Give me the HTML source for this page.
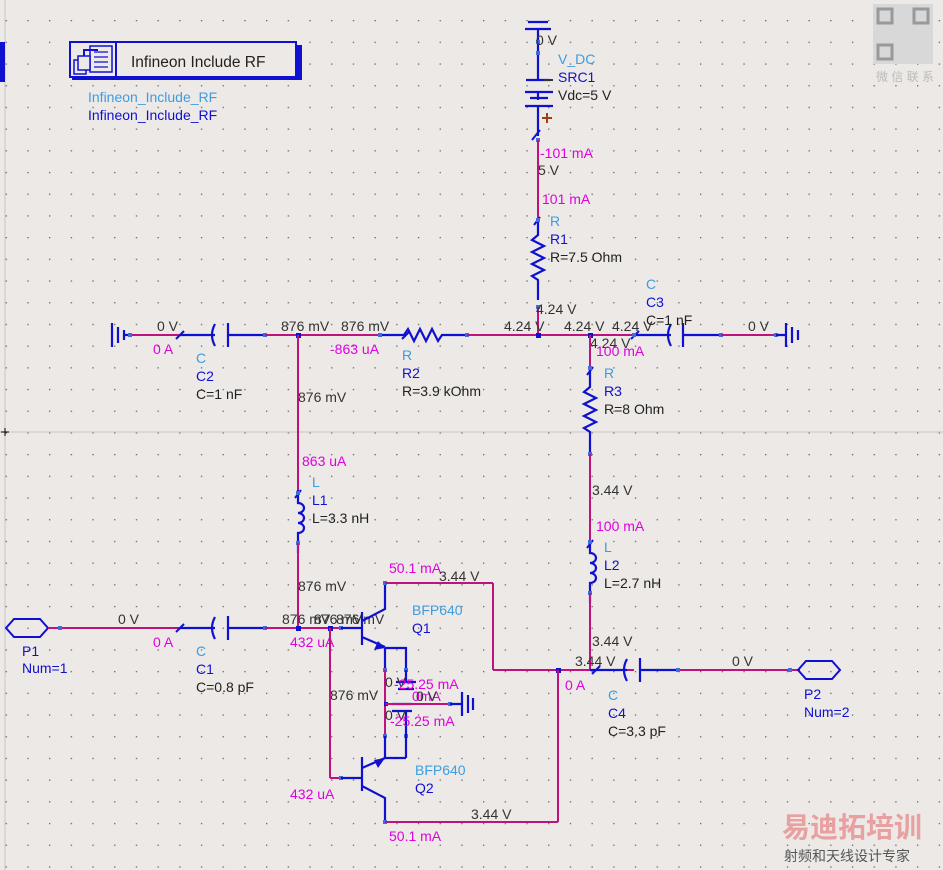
<!DOCTYPE html>
<html><head><meta charset="utf-8"><style>
html,body{margin:0;padding:0;background:#ece9e6;}
svg{display:block;}
text{font-family:"Liberation Sans",sans-serif;font-size:14px;}
.v{fill:#333;} .i{fill:#e000e0;} .t{fill:#3c9de0;} .n{fill:#1010d0;} .p{fill:#222;}
.w{stroke:#c0127f;stroke-width:2;fill:none;}
.b{stroke:#1010d0;stroke-width:2.2;fill:none;}
.sq{fill:#3c6ee0;}
</style></head><body>
<svg width="943" height="870" viewBox="0 0 943 870" xmlns="http://www.w3.org/2000/svg">
<defs>
<pattern id="dots" x="5.6" y="-1.7" width="21.7" height="21.7" patternUnits="userSpaceOnUse">
<rect x="0" y="0" width="1.3" height="1.3" fill="#666"/>
</pattern>
</defs>
<rect width="943" height="870" fill="#ece9e6"/>
<rect width="943" height="870" fill="url(#dots)"/>
<line x1="0" y1="432" x2="943" y2="432" stroke="#c8c8c8" stroke-width="1"/>
<line x1="5" y1="0" x2="5" y2="870" stroke="#c8c8c8" stroke-width="1"/>
<rect x="0" y="42" width="5" height="40" fill="#1010d0"/>
<line x1="1" y1="432" x2="9" y2="432" stroke="#000"/><line x1="5" y1="428" x2="5" y2="436" stroke="#000"/>

<!-- Include box -->
<rect x="72" y="45" width="230" height="35" fill="#1010d0"/>
<rect x="70" y="42" width="226" height="35" fill="#ece9e6" stroke="#1010d0" stroke-width="2"/>
<line x1="116" y1="42" x2="116" y2="77" stroke="#1010d0" stroke-width="2"/>
<rect x="90" y="46" width="22" height="26" fill="none" stroke="#1010d0" stroke-width="1.5"/>
<path d="M94 52h14M94 57h14M94 62h14M94 67h14" stroke="#1010d0" stroke-width="1.3"/>
<rect x="74" y="60" width="12" height="14" fill="#ece9e6" stroke="#1010d0" stroke-width="1.5"/>
<rect x="78" y="56" width="12" height="14" fill="#ece9e6" stroke="#1010d0" stroke-width="1.5"/>
<path d="M84 56 L84 50 L98 50" stroke="#1010d0" stroke-width="2" fill="none"/>
<text x="131" y="67" class="p" style="font-size:15.5px">Infineon Include RF</text>
<text x="88" y="102" class="t">Infineon_Include_RF</text>
<text x="88" y="120" class="n">Infineon_Include_RF</text>

<!-- Top DC source -->
<path class="b" d="M528 22h20M525 29h26M538 29v43M538 92v8M525 92h28M530 98h18M525 106h28M538 106v30"/>
<path class="b" d="M538 72v8 M526 80h24"/>
<line x1="532" y1="140" x2="540" y2="130" stroke="#1010d0" stroke-width="2"/>
<rect x="536" y="40" width="4" height="4" class="sq"/><rect x="536" y="51" width="4" height="4" class="sq"/>
<rect x="536" y="138" width="4" height="4" class="sq"/>
<text x="536" y="45" class="v">0 V</text>
<text x="558" y="64" class="t">V_DC</text>
<text x="558" y="82" class="n">SRC1</text>
<text x="558" y="100" class="p">Vdc=5 V</text>
<line x1="543" y1="80" x2="553" y2="80" stroke="#333" stroke-width="2"/>
<path d="M542 118h10M547 113v10" stroke="#a04010" stroke-width="2"/>

<!-- vertical from source to R1 -->
<line class="w" x1="538" y1="140" x2="538" y2="220"/>
<text x="540" y="158" class="i">-101 mA</text>
<text x="538" y="175" class="v">5 V</text>
<text x="542" y="204" class="i">101 mA</text>
<path class="b" d="M538 220v15 l-6 5 12 6 -12 6 12 6 -12 6 12 6 -12 6 6 4 v20"/>
<line x1="534" y1="225" x2="540" y2="217" stroke="#1010d0" stroke-width="2"/>
<rect x="536" y="218" width="4" height="4" class="sq"/><rect x="536" y="305" width="4" height="4" class="sq"/>
<text x="550" y="226" class="t">R</text>
<text x="550" y="244" class="n">R1</text>
<text x="550" y="262" class="p">R=7.5 Ohm</text>
<line class="w" x1="538" y1="307" x2="538" y2="335"/>
<text x="536" y="314" class="v">4.24 V</text>

<!-- top horizontal wire -->
<line class="w" x1="130" y1="335" x2="180" y2="335"/>
<path class="b" d="M112 323v24M118 327v16M124 330v10M124 335h6"/>
<rect x="128" y="333" width="4" height="4" class="sq"/>
<path class="b" d="M180 335h35 M215 324 q-6 11 0 22 M228 323v24 M228 335h37"/>
<line x1="176" y1="339" x2="184" y2="331" stroke="#1010d0" stroke-width="2"/>
<rect x="263" y="333" width="4" height="4" class="sq"/>
<text x="157" y="331" class="v">0 V</text>
<text x="153" y="354" class="i">0 A</text>
<text x="196" y="363" class="t">C</text>
<text x="196" y="381" class="n">C2</text>
<text x="196" y="399" class="p">C=1 nF</text>
<line class="w" x1="265" y1="335" x2="380" y2="335"/>
<rect x="296" y="333" width="5" height="5" fill="#1010d0"/>
<text x="281" y="331" class="v">876 mV</text>
<text x="341" y="331" class="v">876 mV</text>
<text x="330" y="354" class="i">-863 uA</text>
<path class="b" d="M380 335h24 l4 -6 6 12 6 -12 6 12 6 -12 6 12 4 -6 h25"/>
<line x1="402" y1="339" x2="410" y2="331" stroke="#1010d0" stroke-width="2"/>
<rect x="378" y="333" width="4" height="4" class="sq"/><rect x="465" y="333" width="4" height="4" class="sq"/>
<text x="402" y="360" class="t">R</text>
<text x="402" y="378" class="n">R2</text>
<text x="402" y="396" class="p">R=3.9 kOhm</text>
<line class="w" x1="467" y1="335" x2="634" y2="335"/>
<rect x="536" y="333" width="5" height="5" fill="#1010d0"/>
<rect x="588" y="333" width="5" height="5" fill="#1010d0"/>
<text x="504" y="331" class="v">4.24 V</text>
<text x="564" y="331" class="v">4.24 V</text>
<text x="612" y="331" class="v">4.24 V</text>
<text x="590" y="348" class="v">4.24 V</text>
<text x="596" y="356" class="i">100 mA</text>
<path class="b" d="M634 335h37 M671 324 q-6 11 0 22 M683 323v24 M683 335h38"/>
<line x1="631" y1="339" x2="639" y2="331" stroke="#1010d0" stroke-width="2"/>
<rect x="632" y="333" width="4" height="4" class="sq"/><rect x="719" y="333" width="4" height="4" class="sq"/>
<text x="646" y="289" class="t">C</text>
<text x="646" y="307" class="n">C3</text>
<text x="646" y="325" class="p">C=1 nF</text>
<line class="w" x1="721" y1="335" x2="776" y2="335"/>
<rect x="774" y="333" width="4" height="4" class="sq"/>
<path class="b" d="M776 335h10M786 323v24M792 327v16M798 330v10"/>
<text x="748" y="331" class="v">0 V</text>

<!-- left vertical L1 -->
<line class="w" x1="298" y1="335" x2="298" y2="490"/>
<text x="298" y="402" class="v">876 mV</text>
<text x="302" y="466" class="i">863 uA</text>
<path class="b" d="M298 490v13 a6 5 0 1 1 0 10 a6 5 0 1 1 0 10 a6 5 0 1 1 0 10 v20"/>
<line x1="295" y1="498" x2="301" y2="490" stroke="#1010d0" stroke-width="2"/>
<rect x="296" y="491" width="4" height="4" class="sq"/><rect x="296" y="541" width="4" height="4" class="sq"/>
<text x="312" y="487" class="t">L</text>
<text x="312" y="505" class="n">L1</text>
<text x="312" y="523" class="p">L=3.3 nH</text>
<line class="w" x1="298" y1="543" x2="298" y2="628"/>
<text x="298" y="591" class="v">876 mV</text>

<!-- right vertical R3 L2 -->
<line class="w" x1="590" y1="335" x2="590" y2="367"/>
<path class="b" d="M590 367v20 l-6 5 12 6 -12 6 12 6 -12 6 12 6 -12 6 6 4 v22"/>
<line x1="587" y1="375" x2="593" y2="367" stroke="#1010d0" stroke-width="2"/>
<rect x="588" y="366" width="4" height="4" class="sq"/><rect x="588" y="452" width="4" height="4" class="sq"/>
<text x="604" y="378" class="t">R</text>
<text x="604" y="396" class="n">R3</text>
<text x="604" y="414" class="p">R=8 Ohm</text>
<line class="w" x1="590" y1="454" x2="590" y2="540"/>
<text x="592" y="495" class="v">3.44 V</text>
<text x="596" y="531" class="i">100 mA</text>
<path class="b" d="M590 540v13 a6 5 0 1 1 0 10 a6 5 0 1 1 0 10 a6 5 0 1 1 0 10 v20"/>
<line x1="587" y1="548" x2="593" y2="540" stroke="#1010d0" stroke-width="2"/>
<rect x="588" y="540" width="4" height="4" class="sq"/><rect x="588" y="591" width="4" height="4" class="sq"/>
<text x="604" y="552" class="t">L</text>
<text x="604" y="570" class="n">L2</text>
<text x="604" y="588" class="p">L=2.7 nH</text>
<line class="w" x1="590" y1="593" x2="590" y2="670"/>
<text x="592" y="646" class="v">3.44 V</text>

<!-- P1 input -->
<path d="M6 628 l8 -9 h26 l8 9 -8 9 h-26 z" fill="none" stroke="#1010d0" stroke-width="2"/>
<line class="w" x1="48" y1="628" x2="180" y2="628"/>
<rect x="58" y="626" width="4" height="4" class="sq"/>
<text x="22" y="656" class="n">P1</text>
<text x="22" y="673" class="n">Num=1</text>
<text x="118" y="624" class="v">0 V</text>
<text x="153" y="647" class="i">0 A</text>
<path class="b" d="M180 628h35 M215 617 q-6 11 0 22 M228 616v24 M228 628h37"/>
<line x1="176" y1="632" x2="184" y2="624" stroke="#1010d0" stroke-width="2"/>
<rect x="263" y="626" width="4" height="4" class="sq"/>
<text x="196" y="656" class="t">C</text>
<text x="196" y="674" class="n">C1</text>
<text x="196" y="692" class="p">C=0.8 pF</text>
<line class="w" x1="265" y1="628" x2="341" y2="628"/>
<rect x="296" y="626" width="5" height="5" fill="#1010d0"/>
<rect x="328" y="626" width="5" height="5" fill="#1010d0"/>
<rect x="339" y="626" width="4" height="4" class="sq"/>
<path class="b" d="M341 628h20"/>
<text x="282" y="624" class="v">876 mV</text>
<text x="314" y="624" class="v">876 mV</text>
<text x="336" y="624" class="v">876 mV</text>
<text x="290" y="647" class="i">432 uA</text>

<!-- Q1 -->
<path class="b" d="M362 612v33 M362 621l23 -12v-26 M362 637l23 10"/>
<polygon points="385,648 374,650 378,641" fill="#1010d0"/>
<path class="b" d="M385 648h21v22 M385 648v22"/>
<rect x="383" y="581" width="4" height="4" class="sq"/>
<text x="412" y="615" class="t">BFP640</text>
<text x="412" y="633" class="n">Q1</text>
<text x="389" y="573" class="i">50.1 mA</text>
<text x="439" y="581" class="v">3.44 V</text>
<line class="w" x1="385" y1="583" x2="493" y2="583"/>
<line class="w" x1="493" y1="583" x2="493" y2="670"/>
<line class="w" x1="493" y1="670" x2="634" y2="670"/>
<rect x="556" y="668" width="5" height="5" fill="#1010d0"/>
<text x="565" y="690" class="i">0 A</text>
<text x="575" y="666" class="v">3.44 V</text>

<!-- middle emitter network -->
<rect x="383" y="668" width="4" height="4" class="sq"/><rect x="404" y="668" width="4" height="4" class="sq"/>
<line class="w" x1="385" y1="670" x2="385" y2="736"/>
<path class="b" d="M406 670v12 M396 682h20 M398 689h16 M392 704h20 M392 711h20 M406 711v10"/>
<rect x="384" y="702" width="4" height="4" fill="#1010d0"/>
<line class="w" x1="385" y1="704" x2="450" y2="704"/>
<rect x="448" y="702" width="4" height="4" class="sq"/>
<path class="b" d="M450 704h12 M462 692v24 M468 695v18 M473 698v12"/>
<rect x="383" y="734" width="4" height="4" class="sq"/><rect x="404" y="734" width="4" height="4" class="sq"/>
<path class="b" d="M406 721v15 M385 736v22 M406 736v22 M385 758h21"/>
<text x="385" y="687" class="v">0 V</text>
<text x="394" y="689" class="i">-25.25 mA</text>
<text x="412" y="701" class="i">0mA</text>
<text x="416" y="701" class="v">0 V</text>
<text x="330" y="700" class="v">876 mV</text>
<text x="385" y="720" class="v">0 V</text>
<text x="390" y="726" class="i">-25.25 mA</text>

<!-- Q2 -->
<line class="w" x1="330" y1="628" x2="330" y2="778"/>
<line class="w" x1="330" y1="778" x2="341" y2="778"/>
<rect x="339" y="776" width="4" height="4" class="sq"/>
<path class="b" d="M341 778h21 M362 757v34 M362 768l23 -10 M362 786l23 12v24"/>
<polygon points="385,758 374,760 378,768" fill="#1010d0"/>
<rect x="383" y="820" width="4" height="4" class="sq"/>
<text x="415" y="775" class="t">BFP640</text>
<text x="415" y="793" class="n">Q2</text>
<text x="290" y="799" class="i">432 uA</text>
<text x="389" y="841" class="i">50.1 mA</text>
<text x="471" y="819" class="v">3.44 V</text>
<line class="w" x1="385" y1="822" x2="558" y2="822"/>
<line class="w" x1="558" y1="670" x2="558" y2="822"/>

<!-- C4 and P2 -->
<path class="b" d="M590 670h37 M627 659 q-6 11 0 22 M640 658v24 M640 670h38"/>
<line class="w" x1="678" y1="670" x2="800" y2="670"/>
<line x1="592" y1="674" x2="600" y2="666" stroke="#1010d0" stroke-width="2"/>
<rect x="676" y="668" width="4" height="4" class="sq"/><rect x="788" y="668" width="4" height="4" class="sq"/>
<text x="608" y="700" class="t">C</text>
<text x="608" y="718" class="n">C4</text>
<text x="608" y="736" class="p">C=3.3 pF</text>
<text x="732" y="666" class="v">0 V</text>
<path d="M798 670 l8 -9 h26 l8 9 -8 9 h-26 z" fill="none" stroke="#1010d0" stroke-width="2"/>
<text x="804" y="699" class="n">P2</text>
<text x="804" y="717" class="n">Num=2</text>

<!-- watermarks -->
<rect x="873" y="4" width="60" height="60" fill="#d8d8d8"/>
<rect x="878" y="9" width="14" height="14" fill="none" stroke="#999" stroke-width="3"/>
<rect x="914" y="9" width="14" height="14" fill="none" stroke="#999" stroke-width="3"/>
<rect x="878" y="45" width="14" height="14" fill="none" stroke="#999" stroke-width="3"/>
<text x="876" y="81" style="font-size:12px;fill:#bbb;font-family:'Liberation Sans','Noto Sans CJK SC',sans-serif">微 信 联 系</text>
<text x="782" y="837" style="font-size:28px;font-weight:bold;fill:#e8a0a0;font-family:'Liberation Sans','Noto Sans CJK SC',sans-serif">易迪拓培训</text>
<text x="784" y="861" style="font-size:14px;fill:#555;font-family:'Liberation Sans','Noto Sans CJK SC',sans-serif">射频和天线设计专家</text>
</svg>
</body></html>
